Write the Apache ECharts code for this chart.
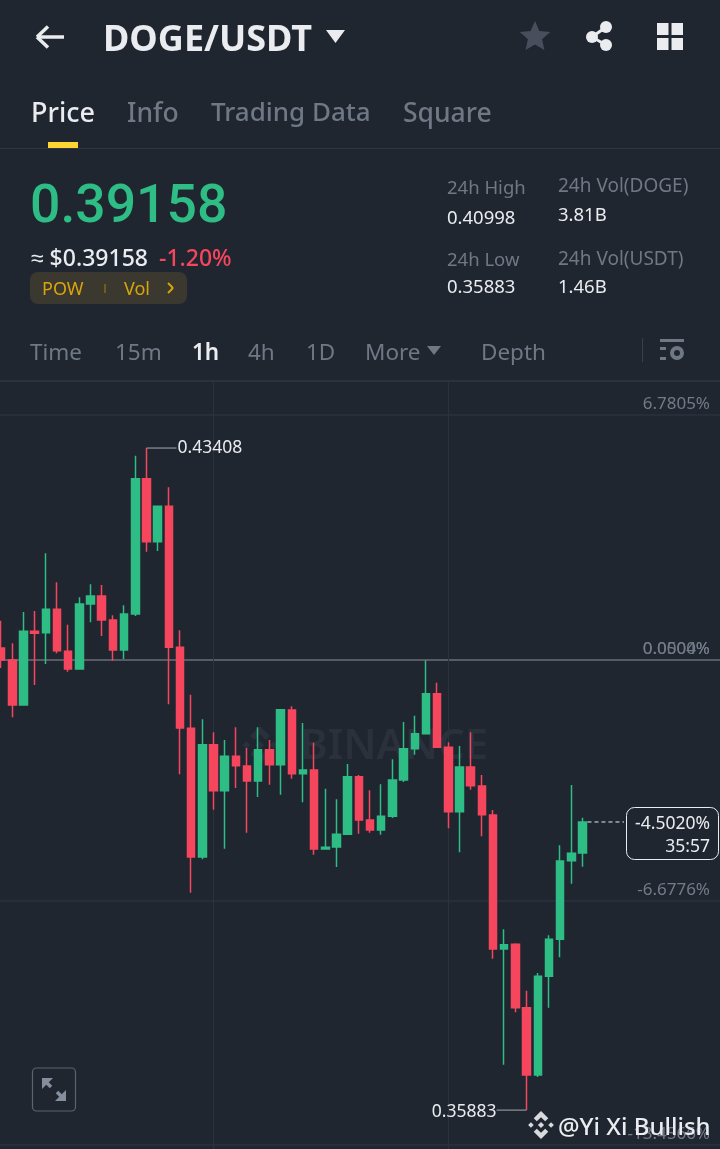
<!DOCTYPE html>
<html>
<head>
<meta charset="utf-8">
<title>DOGE/USDT</title>
<style>
    html, body { margin: 0; padding: 0; background: #1f2630; }
    #chart { width: 720px; height: 1149px; }
</style>
<script src="https://cdn.jsdelivr.net/npm/echarts@6/dist/echarts.min.js"></script>
</head>
<body>
<div id="chart"></div>
<script>
// 1h candles, oldest first
let opens = [0.41135,0.40999,0.40487,0.41325,0.41309,0.41575,0.41098,0.40897,0.41636,0.41726,0.41454,0.41113,0.41522,0.43060,0.42344,0.42746,0.41143,0.40223,0.38760,0.40036,0.39513,0.39904,0.39794,0.39624,0.39979,0.39809,0.40431,0.39707,0.39749,0.38851,0.38873,0.39018,0.39672,0.39180,0.39067,0.39222,0.39635,0.39991,0.40161,0.40616,0.40007,0.39275,0.39783,0.39567,0.39237,0.37714,0.37767,0.37047,0.36282,0.37404,0.37824,0.38718,0.38805];
let closes = [0.40999,0.40487,0.41325,0.41302,0.41575,0.41105,0.40897,0.41636,0.41726,0.41454,0.41113,0.41522,0.43060,0.42344,0.42746,0.41143,0.40226,0.38760,0.40036,0.39513,0.39904,0.39797,0.39624,0.39979,0.39809,0.40434,0.39707,0.39749,0.38851,0.38870,0.39018,0.39672,0.39180,0.39067,0.39222,0.39635,0.39991,0.40161,0.40616,0.40007,0.39275,0.39783,0.39570,0.39241,0.37714,0.37763,0.37047,0.36282,0.37404,0.37824,0.38714,0.38802,0.39158];
let lows = [0.40908,0.40348,0.40487,0.40715,0.40954,0.41075,0.40866,0.40897,0.41428,0.41272,0.40991,0.41010,0.41499,0.42230,0.42238,0.40495,0.39700,0.38354,0.38734,0.39297,0.38854,0.39544,0.39036,0.39442,0.39582,0.39468,0.39650,0.39381,0.38786,0.38847,0.38646,0.39018,0.39025,0.39036,0.39013,0.39203,0.39612,0.39923,0.40161,0.40007,0.39086,0.38813,0.39525,0.38995,0.37604,0.36399,0.36994,0.35883,0.36259,0.37047,0.37620,0.38456,0.38650];
let highs = [0.41446,0.41189,0.41545,0.41556,0.42212,0.41882,0.41400,0.41712,0.41859,0.41852,0.41507,0.41621,0.43321,0.43408,0.42746,0.42962,0.41337,0.40605,0.40325,0.40177,0.40090,0.40234,0.39999,0.40234,0.40090,0.40434,0.40473,0.40283,0.40059,0.39536,0.39416,0.39817,0.39692,0.39518,0.39586,0.39870,0.40294,0.40366,0.40996,0.40741,0.40063,0.40021,0.40177,0.39692,0.39294,0.37938,0.37779,0.37240,0.37441,0.37870,0.38893,0.39578,0.39206];

// right hand scale: price level and the percent label printed above it
let levelPrices = [0.43784, 0.41004, 0.41004, 0.38266, 0.35486];
let levelLabels = ['6.7805%', '0.0504%', '0.0000%', '-6.6776%', '-13.4566%'];
let verticalSlots = [19, 40];

let highIndex = 13;
let lowIndex = 47;
let lastIndex = 52;

const UP = '#2ebd85';
const DOWN = '#f6465d';
const BG = '#1f2630';
const GRID = '#2c323d';
const FONT = '"Noto Sans", sans-serif';

let candles = [];
for (let i = 0; i < opens.length; i++) {
    candles.push([i, opens[i], closes[i], lows[i], highs[i]]);
}

let levelLines = [];
for (let i = 0; i < levelPrices.length; i++) {
    let isZero = levelPrices[i] === 0.41004;
    levelLines.push({
        yAxis: levelPrices[i],
        lineStyle: isZero ? { color: '#565b66', width: 2, type: 'solid' } : { color: GRID, width: 1.5, type: 'solid' },
        label: {
            show: true,
            position: 'insideEndTop',
            distance: 2,
            formatter: levelLabels[i],
            color: '#727b89',
            fontFamily: FONT,
            fontSize: 17,
            padding: [0, 8, 0, 0]
        }
    });
}
let verticalLines = verticalSlots.map(function (s) {
    return { xAxis: s, lineStyle: { color: GRID, width: 1, type: 'solid' }, label: { show: false } };
});

let chart = echarts.init(document.getElementById('chart'));

let option = {
    backgroundColor: BG,
    animation: false,
    grid: { left: 0, top: 381, width: 720, height: 768 },
    xAxis: {
        type: 'value',
        min: -0.098,
        max: 64.3,
        axisLine: { show: false },
        axisTick: { show: false },
        axisLabel: { show: false },
        splitLine: { show: false }
    },
    yAxis: {
        type: 'value',
        min: 0.35441,
        max: 0.44170,
        axisLine: { show: false },
        axisTick: { show: false },
        axisLabel: { show: false },
        splitLine: { show: false }
    },
    series: [{
        type: 'candlestick',
        barWidth: 8,
        z: 3,
        data: candles,
        itemStyle: {
            color: UP,
            color0: DOWN,
            borderColor: UP,
            borderColor0: DOWN,
            borderWidth: 1.5
        },
        markLine: {
            silent: true,
            symbol: 'none',
            animation: false,
            precision: 5,
            z: 1,
            data: levelLines.concat(verticalLines)
        }
    }]
};
chart.setOption(option);

function label(text, x, y, size, fill, weight, align, z) {
    return {
        type: 'text',
        z: z || 20,
        style: {
            text: text,
            x: x,
            y: y + 2,
            fill: fill,
            font: (weight || 400) + ' ' + size + 'px ' + FONT,
            textAlign: align || 'left',
            textVerticalAlign: 'middle'
        }
    };
}

function poly(points, fill, z) {
    return { type: 'polygon', z: z || 20, shape: { points: points }, style: { fill: fill } };
}

function segment(x1, y1, x2, y2, stroke, width, dash) {
    return {
        type: 'line',
        z: 20,
        shape: { x1: x1, y1: y1, x2: x2, y2: y2 },
        style: { stroke: stroke, lineWidth: width, lineDash: dash || null }
    };
}

function binanceLogo(cx, cy, s, fill, z) {
    let d = function (x, y, r) {
        return poly([[cx + x, cy + y - r], [cx + x + r, cy + y], [cx + x, cy + y + r], [cx + x - r, cy + y]], fill, z);
    };
    return [
        d(0, 0, s * 0.22),
        d(-s * 0.72, 0, s * 0.2),
        d(s * 0.72, 0, s * 0.2),
        poly([[cx, cy - s], [cx + s * 0.52, cy - s * 0.48], [cx + s * 0.3, cy - s * 0.26], [cx, cy - s * 0.56], [cx - s * 0.3, cy - s * 0.26], [cx - s * 0.52, cy - s * 0.48]], fill, z),
        poly([[cx, cy + s], [cx + s * 0.52, cy + s * 0.48], [cx + s * 0.3, cy + s * 0.26], [cx, cy + s * 0.56], [cx - s * 0.3, cy + s * 0.26], [cx - s * 0.52, cy + s * 0.48]], fill, z)
    ];
}

let star = [];
for (let i = 0; i < 10; i++) {
    let r = i % 2 === 0 ? 16 : 7.5;
    let a = -Math.PI / 2 + i * Math.PI / 5;
    star.push([535 + r * Math.cos(a), 37 + r * Math.sin(a)]);
}

let ui = [
    // header
    segment(37, 37, 64, 37, '#eaecef', 3.5),
    segment(48, 26.5, 37, 37, '#eaecef', 3.5),
    segment(37, 37, 48, 47.5, '#eaecef', 3.5),
    label('DOGE/USDT', 103, 39, 36, '#eaecef', 700),
    poly([[326, 30], [345, 30], [335.5, 43]], '#eaecef'),
    poly(star, '#484e5b'),
    segment(592, 37, 606, 27, '#eaecef', 3),
    segment(592, 37, 606, 45, '#eaecef', 3),
    { type: 'circle', z: 20, shape: { cx: 592, cy: 37, r: 6 }, style: { fill: '#eaecef' } },
    { type: 'circle', z: 20, shape: { cx: 606, cy: 27, r: 6 }, style: { fill: '#eaecef' } },
    { type: 'circle', z: 20, shape: { cx: 606, cy: 45, r: 6 }, style: { fill: '#eaecef' } },
    { type: 'rect', z: 20, shape: { x: 657, y: 23, width: 11.5, height: 12 }, style: { fill: '#eaecef' } },
    { type: 'rect', z: 20, shape: { x: 671.5, y: 23, width: 11.5, height: 12 }, style: { fill: '#eaecef' } },
    { type: 'rect', z: 20, shape: { x: 657, y: 38, width: 11.5, height: 12 }, style: { fill: '#eaecef' } },
    { type: 'rect', z: 20, shape: { x: 671.5, y: 38, width: 11.5, height: 12 }, style: { fill: '#eaecef' } },

    // tabs
    label('Price', 31, 112, 27, '#eaecef', 500),
    label('Info', 127, 112, 26.5, '#6f7885', 500),
    label('Trading Data', 211, 112, 26, '#6f7885', 500),
    label('Square', 403, 112, 26.5, '#6f7885', 500),
    { type: 'rect', z: 20, shape: { x: 48, y: 142, width: 30, height: 6 }, style: { fill: '#fcd535' } },
    segment(0, 148.5, 720, 148.5, '#2f3540', 1),

    // price block
    {
        type: 'text', z: 20,
        style: { text: '0.39158', x: 30, y: 209, fill: UP, font: '500 53.5px Roboto, sans-serif', textAlign: 'left', textVerticalAlign: 'middle' }
    },
    label('\u2248 $0.39158', 31, 257, 23, '#eaecef', 500),
    label('-1.20%', 159, 257, 23, DOWN, 500),
    { type: 'rect', z: 20, shape: { x: 30, y: 272, width: 157, height: 32, r: 8 }, style: { fill: '#3a382f' } },
    label('POW', 42, 288, 18, '#d9a50d'),
    { type: 'rect', z: 20, shape: { x: 104, y: 284, width: 2, height: 9 }, style: { fill: '#6e5c1c' } },
    label('Vol', 124, 288, 18, '#d9a50d'),
    segment(168, 283, 173, 288, '#d9a50d', 2),
    segment(173, 288, 168, 293, '#d9a50d', 2),

    // 24h stats
    label('24h High', 447, 187, 18.5, '#6f7885'),
    label('0.40998', 447, 217, 18.5, '#eaecef'),
    label('24h Vol(DOGE)', 558, 185, 19, '#6f7885'),
    label('3.81B', 558, 214, 18.5, '#eaecef'),
    label('24h Low', 447, 259, 18.5, '#6f7885'),
    label('0.35883', 447, 286, 18.5, '#eaecef'),
    label('24h Vol(USDT)', 558, 258, 19, '#6f7885'),
    label('1.46B', 558, 286, 18.5, '#eaecef'),

    // interval bar
    label('Time', 30, 352, 22.5, '#6f7885'),
    label('15m', 115, 352, 22.5, '#6f7885'),
    label('1h', 192, 352, 22.5, '#eaecef', 600),
    label('4h', 248, 352, 22.5, '#6f7885'),
    label('1D', 306, 352, 22.5, '#6f7885'),
    label('More', 365, 352, 22.5, '#6f7885'),
    poly([[427, 346], [441, 346], [434, 355]], '#6f7885'),
    label('Depth', 481, 352, 22.5, '#6f7885'),
    segment(642.5, 338, 642.5, 362, '#3a404b', 1),
    { type: 'rect', z: 20, shape: { x: 660, y: 339, width: 24, height: 3 }, style: { fill: '#6f7885' } },
    { type: 'rect', z: 20, shape: { x: 660, y: 347, width: 6, height: 3 }, style: { fill: '#6f7885' } },
    { type: 'rect', z: 20, shape: { x: 660, y: 357, width: 6, height: 3 }, style: { fill: '#6f7885' } },
    { type: 'circle', z: 20, shape: { cx: 677, cy: 353, r: 5 }, style: { fill: BG, stroke: '#6f7885', lineWidth: 4 } },
    segment(0, 381, 720, 381, GRID, 2),

    // expand button
    { type: 'rect', z: 20, shape: { x: 32.5, y: 1068, width: 43, height: 43, r: 4 }, style: { fill: 'none', stroke: '#5c6370', lineWidth: 1.2 } },
    poly([[42, 1078], [53, 1078], [42, 1089]], '#848e9c'),
    poly([[66, 1101], [55, 1101], [66, 1090]], '#848e9c'),
    segment(46, 1082, 51, 1087, '#848e9c', 3.5),
    segment(57, 1092, 62, 1097, '#848e9c', 3.5),

    // watermarks
    label('BINANCE', 300, 745, 42, '#2b313c', 600, 'left', 1),
    label('@Yi Xi Bullish', 558, 1126, 24, '#eaecef', 500, 'left', 30)
].concat(binanceLogo(260, 745, 19, '#2b313c', 1), binanceLogo(541, 1125, 14, '#d8dadd', 30));

// labels that hang off the candles go through the axes' scales
let hi = chart.convertToPixel({ seriesIndex: 0 }, [highIndex, highs[highIndex]]);
let lo = chart.convertToPixel({ seriesIndex: 0 }, [lowIndex, lows[lowIndex]]);
let last = chart.convertToPixel({ seriesIndex: 0 }, [lastIndex, closes[lastIndex]]);

ui = ui.concat([
    segment(hi[0], hi[1], hi[0] + 30, hi[1], '#8f949d', 1.2),
    label('0.43408', hi[0] + 31, hi[1] - 2, 17.5, '#eaecef'),
    segment(lo[0], lo[1], lo[0] - 30, lo[1], '#8f949d', 1.2),
    label('0.35883', lo[0] - 30, lo[1], 17.5, '#eaecef', 400, 'right'),
    segment(last[0] + 5, last[1], 624, last[1], '#eaecef', 1, [4, 3]),
    { type: 'rect', z: 20, shape: { x: 626.5, y: 807.5, width: 92, height: 52, r: 8 }, style: { fill: BG, stroke: '#eaecef', lineWidth: 1 } },
    label('-4.5020%', 710, last[1], 17.5, '#eaecef', 400, 'right'),
    label('35:57', 710, last[1] + 23, 17.5, '#eaecef', 400, 'right')
]);

chart.setOption({ graphic: { elements: ui } });
</script>
</body>
</html>
